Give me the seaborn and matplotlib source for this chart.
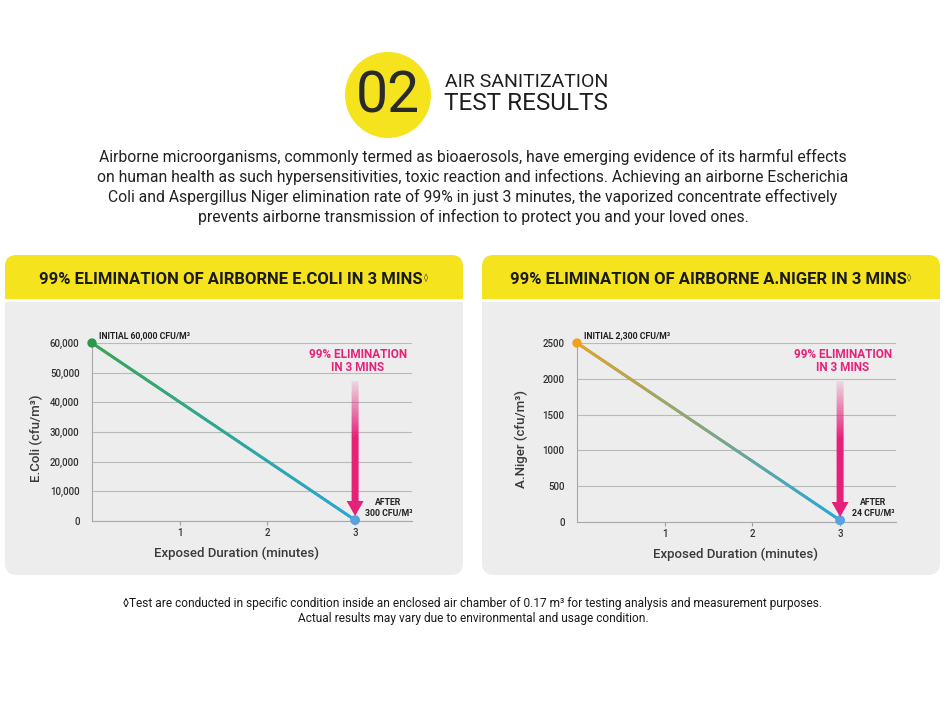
import numpy as np
import pandas as pd
import matplotlib.pyplot as plt
import seaborn as sns
from matplotlib import font_manager
from matplotlib.collections import LineCollection
from matplotlib.colors import to_rgb
from matplotlib.patches import FancyBboxPatch, Rectangle, Circle, FancyArrow
import matplotlib.transforms as mtransforms

# data
minutes = [0, 3]
ecoli = [60000, 300]
aniger = [2500, 24]
ecoli_ticks = [0, 10000, 20000, 30000, 40000, 50000, 60000]
ecoli_labels = ['0', '10,000', '20,000', '30,000', '40,000', '50,000', '60,000']
aniger_ticks = [0, 500, 1000, 1500, 2000, 2500]
aniger_labels = ['0', '500', '1000', '1500', '2000', '2500']
minute_ticks = [1, 2, 3]

intro = ("Airborne microorganisms, commonly termed as bioaerosols, have emerging evidence of its harmful effects\n"
         "on human health as such hypersensitivities, toxic reaction and infections. Achieving an airborne Escherichia\n"
         "Coli and Aspergillus Niger elimination rate of 99% in just 3 minutes, the vaporized concentrate effectively\n"
         "prevents airborne transmission of infection to protect you and your loved ones.")
footnote = ("\u25caTest are conducted in specific condition inside an enclosed air chamber of 0.17 m\u00b3 for testing analysis and measurement purposes.\n"
            "Actual results may vary due to environmental and usage condition.")

sns.set_theme(style='white')
plt.rcParams['font.family'] = ['Roboto', 'DejaVu Sans']

avail = {f.name for f in font_manager.fontManager.ttflist}
narrow = 'Liberation Sans Narrow' if 'Liberation Sans Narrow' in avail else 'Roboto'

YELLOW = '#F5E41D'
GRAY = '#EEEDED'
MAGENTA = '#E5217A'
W, H = 946, 702

fig = plt.figure(figsize=(W / 100, H / 100), dpi=100)
bg = fig.add_axes([0, 0, 1, 1])
bg.set_xlim(0, W)
bg.set_ylim(H, 0)
bg.axis('off')

# heading
bg.add_patch(Circle((388, 95), 43, fc=YELLOW, ec='none'))
bg.text(388, 97, '02', ha='center', va='center', fontsize=41, fontweight='normal', color='#2a2a2a')
bg.text(445, 82, 'AIR SANITIZATION', ha='left', va='center', fontsize=14, color='#1e1e1e')
bg.text(444, 103, 'TEST RESULTS', ha='left', va='center', fontsize=17.5, color='#1e1e1e')
bg.text(473, 187, intro, ha='center', va='center', fontsize=11.3, color='#222222', linespacing=1.3)
bg.text(473, 611, footnote, ha='center', va='center', fontsize=8.55, color='#1a1a1a', linespacing=1.25,
        family=['Roboto', 'DejaVu Sans'])

titles = []
for x0, x1, title in [(5, 463, '99% ELIMINATION OF AIRBORNE E.COLI IN 3 MINS'),
                      (482, 940, '99% ELIMINATION OF AIRBORNE A.NIGER IN 3 MINS')]:
    w = x1 - x0
    bg.add_patch(FancyBboxPatch((x0, 255), w, 320, boxstyle='round,pad=0,rounding_size=12', fc=GRAY, ec='none'))
    bg.add_patch(FancyBboxPatch((x0, 255), w, 44, boxstyle='round,pad=0,rounding_size=12', fc=YELLOW, ec='none'))
    bg.add_patch(Rectangle((x0, 280), w, 19, fc=YELLOW, ec='none'))
    bg.add_patch(Rectangle((x0, 299), w, 3, fc='white', ec='none'))
    titles.append(bg.text((x0 + x1) / 2 - 3, 280, title, ha='center', va='center', fontsize=12,
                          fontweight='bold', family=[narrow, 'Roboto'], color='#1a1a1a'))

ov = fig.add_axes([0, 0, 1, 1], zorder=10)
ov.axis('off')
ov.patch.set_alpha(0)


def chart(px, values, ticks, labels, ylabel, c0, c1, dot0, dot1, init_txt, after_txt, xlab_x, ylab_x):
    l, t, r, b = px
    ax = fig.add_axes([l / W, 1 - b / H, (r - l) / W, (b - t) / H])
    ax.set_facecolor('none')
    df = pd.DataFrame({'minutes': minutes, 'value': values})
    sns.lineplot(data=df, x='minutes', y='value', ax=ax, color=c1, lw=2)

    # gradient stroke over the line
    xs = np.linspace(minutes[0], minutes[-1], 80)
    ys = np.interp(xs, minutes, values)
    pts = np.column_stack([xs, ys]).reshape(-1, 1, 2)
    segs = np.concatenate([pts[:-1], pts[1:]], axis=1)
    f = np.linspace(0, 1, len(segs))[:, None]
    cols = (1 - f) * np.array(to_rgb(c0)) + f * np.array(to_rgb(c1))
    ax.add_collection(LineCollection(segs, colors=cols, linewidths=2, capstyle='round', zorder=3))

    sns.scatterplot(x=minutes[:1], y=values[:1], ax=ax, color=dot0, s=45, edgecolor='none', zorder=5, clip_on=False)
    sns.scatterplot(x=minutes[-1:], y=values[-1:], ax=ax, color=dot1, s=50, edgecolor='none', zorder=5, clip_on=False)

    ax.set_xlim(0, (r - l) / 87.7)
    ax.set_ylim(0, ticks[-1])
    ax.set_yticks(ticks)
    ax.set_yticklabels(labels)
    ax.set_xticks(minute_ticks)
    ax.set_xticklabels([str(m) for m in minute_ticks])
    ax.grid(axis='y', color='#B9B9B9', lw=0.8)
    ax.set_axisbelow(True)
    for s in ['top', 'right']:
        ax.spines[s].set_visible(False)
    for s in ['left', 'bottom']:
        ax.spines[s].set_color('#A8A8A8')
        ax.spines[s].set_linewidth(0.8)
    ax.tick_params(axis='x', bottom=True, length=3, width=0.8, color='#A0A0A0', labelsize=7, pad=2,
                   labelcolor='#333333')
    ax.tick_params(axis='y', left=False, labelsize=7, pad=3, labelcolor='#333333')
    for lab in ax.get_xticklabels() + ax.get_yticklabels():
        lab.set_fontweight('medium')

    ax.set_xlabel('Exposed Duration (minutes)', fontsize=9.5, fontweight='medium', color='#3a3a3a')
    ax.set_ylabel(ylabel, fontsize=9.5, fontweight='medium', color='#3a3a3a')
    ax.xaxis.set_label_coords(xlab_x, -0.145)
    ax.yaxis.set_label_coords(ylab_x, 0.466)

    ax.annotate(init_txt, (minutes[0], ticks[-1]), xytext=(5, 5), textcoords='offset points',
                ha='left', va='center', fontsize=6.3, fontweight='bold', color='#222222', annotation_clip=False)
    ax.annotate(after_txt, (minutes[-1], values[-1]), xytext=(24, 9), textcoords='offset points',
                ha='center', va='center', fontsize=6.3, fontweight='bold', color='#222222',
                multialignment='center', annotation_clip=False, linespacing=1.3)
    blend = mtransforms.blended_transform_factory(ax.transData, ax.transAxes)
    ax.text(minutes[-1] + 0.03, 0.9, '99% ELIMINATION\nIN 3 MINS', transform=blend, ha='center', va='center',
            fontsize=8.5, fontweight='bold', color=MAGENTA, linespacing=1.0)

    # fading arrow toward the final point
    xp = ax.transData.transform((minutes[-1], 0))[0]
    top, tip = t + 38, b - 5
    arrow = FancyArrow(xp, top, 0, tip - top, width=7, head_width=17, head_length=15,
                       length_includes_head=True, fc='none', ec='none')
    ov.add_patch(arrow)
    grad = np.zeros((120, 1, 4))
    grad[..., :3] = to_rgb(MAGENTA)
    grad[:, 0, 3] = np.clip(np.linspace(0.05, 1, 120) / 0.45, 0.05, 1)
    im = ov.imshow(grad, extent=(xp - 10, xp + 10, tip, top), origin='upper', aspect='auto',
                   interpolation='bilinear', zorder=3)
    im.set_clip_path(arrow)
    return ax


chart((92, 343, 412, 521), ecoli, ecoli_ticks, ecoli_labels, 'E.Coli (cfu/m\u00b3)',
      '#3DA64A', '#27A8D8', '#2A9A4A', '#5AA2DE', 'INITIAL 60,000 CFU/M\u00b3', 'AFTER\n300 CFU/M\u00b3',
      0.453, -0.153)
chart((577, 343, 896, 522), aniger, aniger_ticks, aniger_labels, 'A.Niger (cfu/m\u00b3)',
      '#EBA21C', '#27A8D8', '#F0A020', '#5AA2DE', 'INITIAL 2,300 CFU/M\u00b3', 'AFTER\n24 CFU/M\u00b3',
      0.498, -0.154)

ov.set_xlim(0, W)
ov.set_ylim(H, 0)

# small lozenge after each panel title
fig.canvas.draw()
inv = bg.transData.inverted()
for t in titles:
    bb = t.get_window_extent()
    x_end, y_top = inv.transform((bb.x1, bb.y1))
    bg.text(x_end + 1, y_top + 1, '\u25ca', ha='left', va='top', fontsize=6, fontweight='bold',
            family=['DejaVu Sans'], color='#1a1a1a')

fig.savefig('out.png', dpi=100)
